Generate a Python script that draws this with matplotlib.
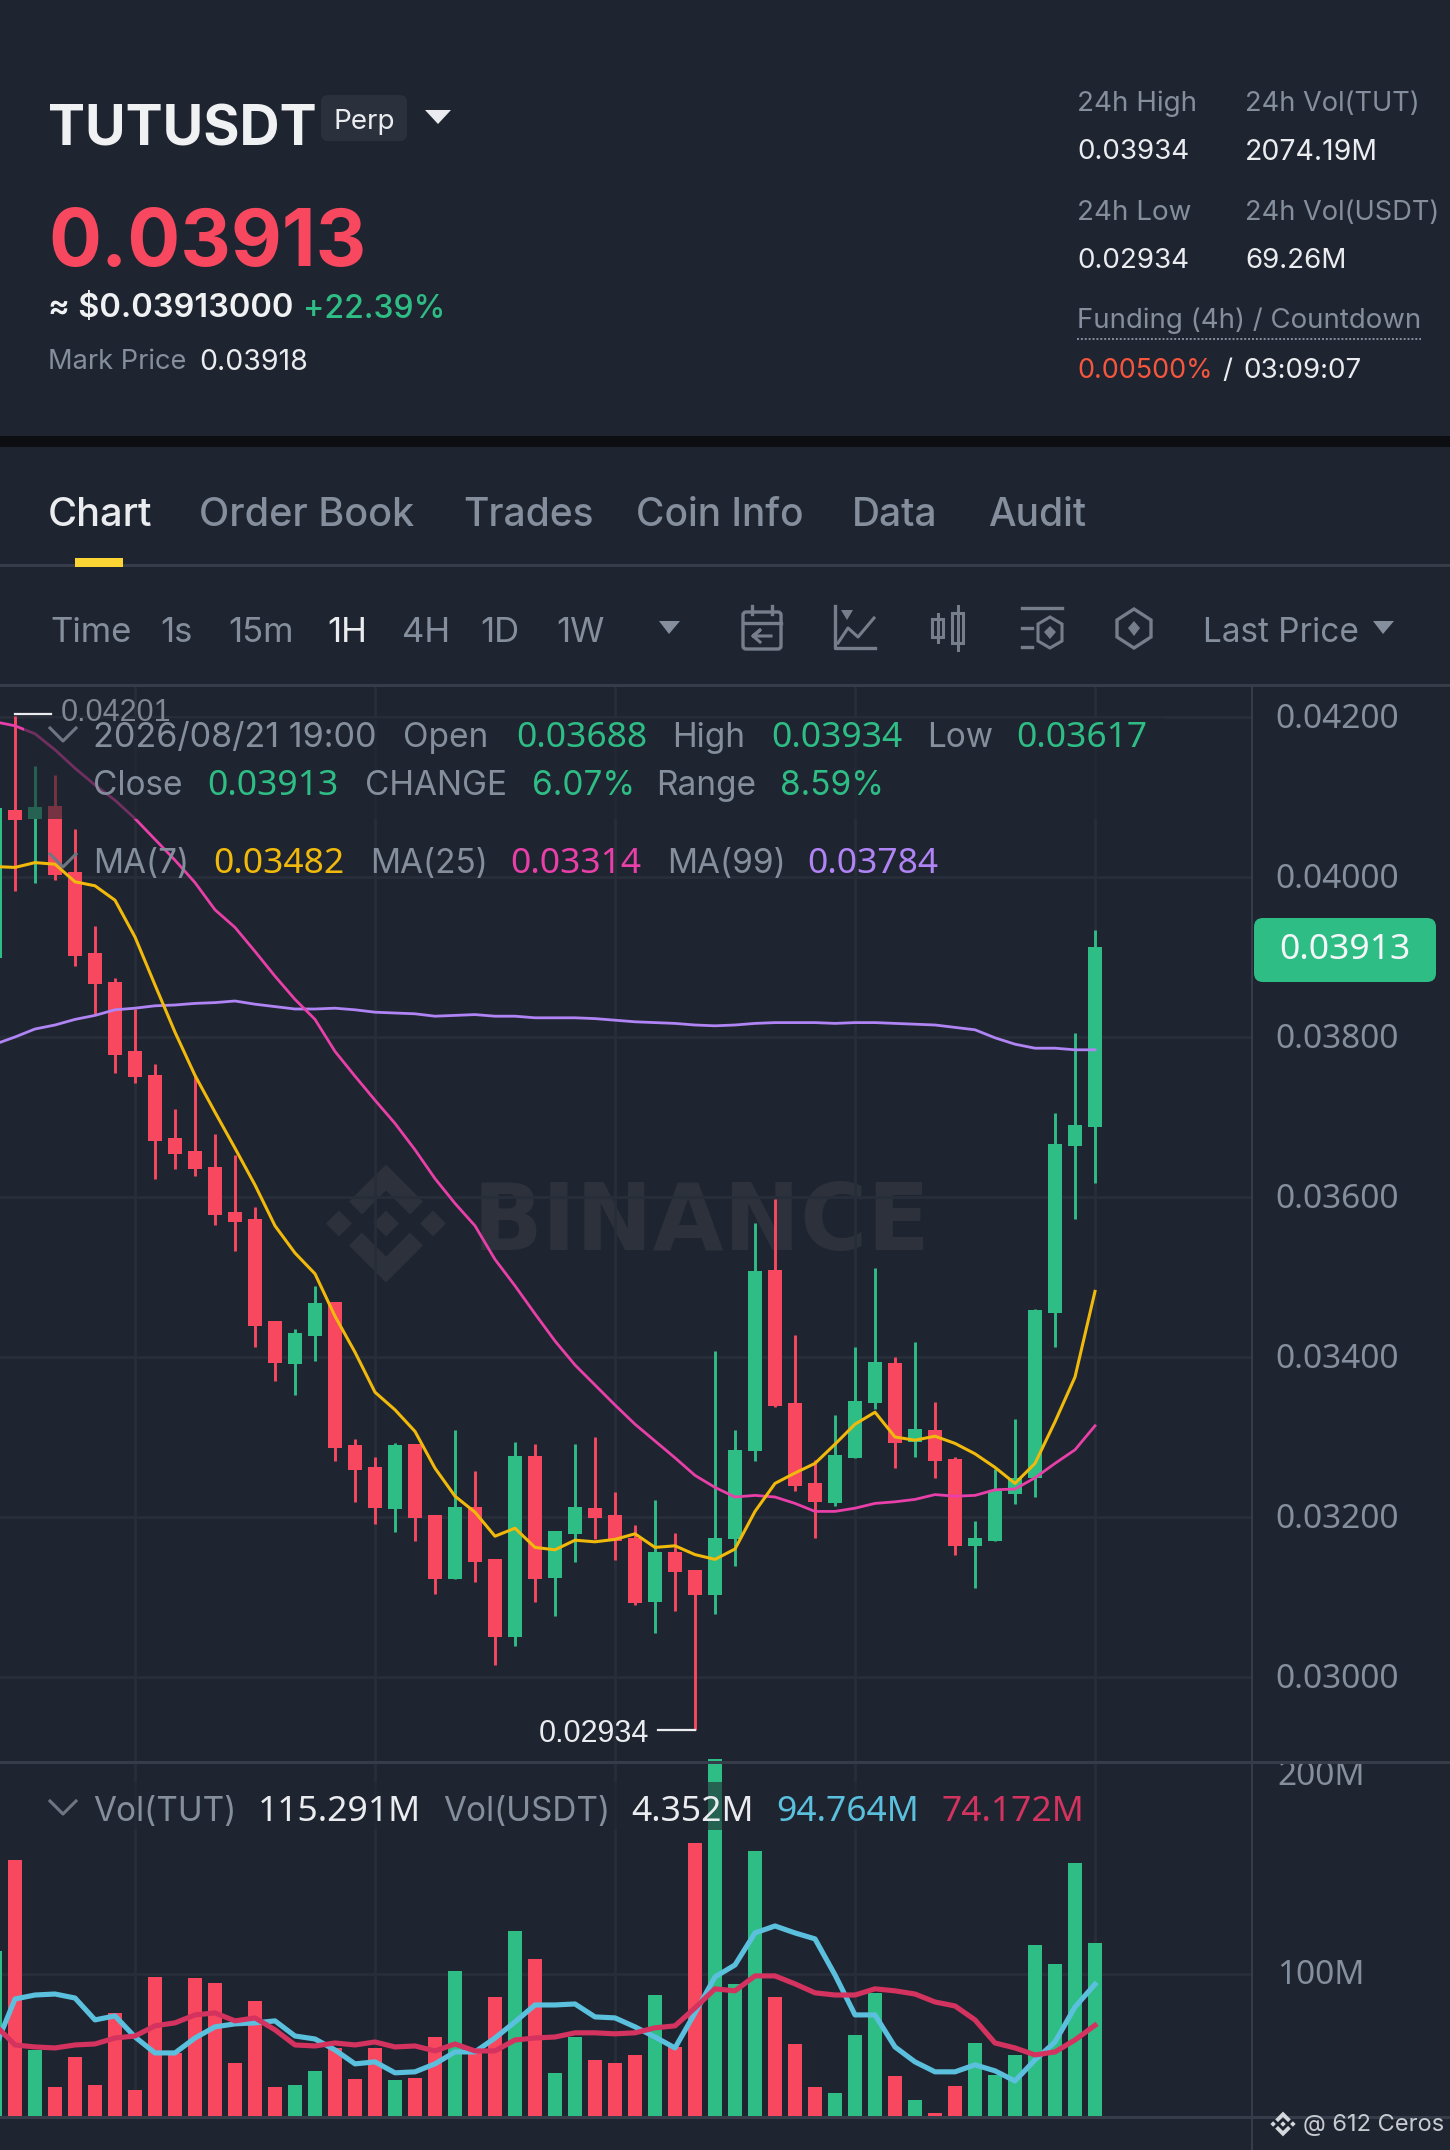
import matplotlib
matplotlib.use('Agg')
import matplotlib.pyplot as plt
from matplotlib.patches import Rectangle, FancyBboxPatch, Polygon
from matplotlib.transforms import ScaledTranslation
import numpy as np

plt.rcParams['font.family'] = ['Inter', 'DejaVu Sans']

BG = '#1f2530'
GRID = '#282e39'
LINE = '#363c49'
RED = '#f8485f'
GREEN = '#2ebd85'
GRAY = '#848e9c'
WHITE = '#eaecef'
NUM = 'Noto Sans'

# candles, first one is cut off by the left edge
candle_idx = np.arange(-1, 55)
opens = [0.03899, 0.04084, 0.04072, 0.04089, 0.04006, 0.03905, 0.03869, 0.03783, 0.03753, 0.03674,
         0.03658, 0.03637, 0.03581, 0.03572, 0.03445, 0.03391, 0.03426, 0.03469, 0.03290, 0.03262,
         0.03210, 0.03291, 0.03202, 0.03122, 0.03212, 0.03148, 0.03050, 0.03276, 0.03124, 0.03179,
         0.03211, 0.03202, 0.03174, 0.03094, 0.03156, 0.03134, 0.03102, 0.03172, 0.03282, 0.03509,
         0.03342, 0.03242, 0.03218, 0.03274, 0.03342, 0.03393, 0.03294, 0.03309, 0.03273, 0.03164,
         0.03170, 0.03229, 0.03249, 0.03455, 0.03664, 0.03688]
closes = [0.04086, 0.04071, 0.04088, 0.04003, 0.03901, 0.03866, 0.03777, 0.03750, 0.03670, 0.03654,
          0.03635, 0.03578, 0.03569, 0.03439, 0.03393, 0.03430, 0.03468, 0.03286, 0.03259, 0.03211,
          0.03290, 0.03199, 0.03122, 0.03212, 0.03144, 0.03050, 0.03276, 0.03122, 0.03182, 0.03212,
          0.03199, 0.03170, 0.03092, 0.03156, 0.03131, 0.03102, 0.03174, 0.03284, 0.03508, 0.03339,
          0.03239, 0.03219, 0.03277, 0.03345, 0.03394, 0.03292, 0.03310, 0.03270, 0.03164, 0.03174,
          0.03232, 0.03249, 0.03459, 0.03666, 0.03690, 0.03913]
highs = [0.04086, 0.04201, 0.04139, 0.04128, 0.04060, 0.03939, 0.03874, 0.03835, 0.03766, 0.03710,
         0.03753, 0.03679, 0.03653, 0.03587, 0.03445, 0.03435, 0.03489, 0.03469, 0.03297, 0.03275,
         0.03292, 0.03291, 0.03202, 0.03309, 0.03258, 0.03148, 0.03294, 0.03291, 0.03182, 0.03291,
         0.03300, 0.03231, 0.03190, 0.03221, 0.03180, 0.03134, 0.03407, 0.03309, 0.03567, 0.03597,
         0.03428, 0.03271, 0.03327, 0.03412, 0.03511, 0.03400, 0.03419, 0.03344, 0.03275, 0.03195,
         0.03260, 0.03322, 0.03460, 0.03705, 0.03805, 0.03934]
lows = [0.03899, 0.03983, 0.03992, 0.03996, 0.03889, 0.03829, 0.03755, 0.03742, 0.03622, 0.03635,
        0.03626, 0.03565, 0.03532, 0.03412, 0.03370, 0.03352, 0.03395, 0.03270, 0.03219, 0.03191,
        0.03181, 0.03170, 0.03104, 0.03122, 0.03119, 0.03015, 0.03039, 0.03094, 0.03076, 0.03144,
        0.03172, 0.03146, 0.03090, 0.03055, 0.03082, 0.02934, 0.03079, 0.03139, 0.03270, 0.03338,
        0.03233, 0.03174, 0.03214, 0.03274, 0.03335, 0.03261, 0.03275, 0.03249, 0.03153, 0.03111,
        0.03170, 0.03216, 0.03225, 0.03412, 0.03572, 0.03617]

ma7 = [0.04013, 0.04012, 0.04018, 0.04016, 0.03994, 0.03989, 0.03971, 0.03925, 0.03865, 0.03806,
       0.03752, 0.03706, 0.03661, 0.03615, 0.03564, 0.03530, 0.03504, 0.03451, 0.03406, 0.03356,
       0.03334, 0.03307, 0.03261, 0.03226, 0.03206, 0.03176, 0.03186, 0.03162, 0.03159, 0.03171,
       0.03169, 0.03172, 0.03179, 0.03162, 0.03164, 0.03153, 0.03147, 0.03160, 0.03207, 0.03242,
       0.03255, 0.03267, 0.03291, 0.03316, 0.03331, 0.03300, 0.03296, 0.03301, 0.03292, 0.03279,
       0.03262, 0.03242, 0.03267, 0.03319, 0.03375, 0.03482]
ma25 = [0.04194, 0.04189, 0.04179, 0.04159, 0.04136, 0.04115, 0.04096, 0.04073, 0.04047, 0.04021,
        0.03993, 0.03959, 0.03937, 0.03907, 0.03876, 0.03847, 0.03822, 0.03782, 0.03751, 0.03721,
        0.03692, 0.03659, 0.03623, 0.03592, 0.03564, 0.03522, 0.03489, 0.03454, 0.03420, 0.03390,
        0.03365, 0.03340, 0.03316, 0.03295, 0.03274, 0.03252, 0.03237, 0.03225, 0.03227, 0.03225,
        0.03217, 0.03207, 0.03207, 0.03211, 0.03217, 0.03219, 0.03222, 0.03228, 0.03226, 0.03227,
        0.03234, 0.03235, 0.03249, 0.03267, 0.03284, 0.03314]
ma99 = [0.03791, 0.03800, 0.03810, 0.03815, 0.03822, 0.03827, 0.03834, 0.03836, 0.03839, 0.03840,
        0.03842, 0.03843, 0.03845, 0.03841, 0.03838, 0.03835, 0.03835, 0.03836, 0.03834, 0.03831,
        0.03830, 0.03829, 0.03826, 0.03827, 0.03828, 0.03826, 0.03826, 0.03824, 0.03824, 0.03824,
        0.03823, 0.03821, 0.03819, 0.03818, 0.03817, 0.03815, 0.03814, 0.03815, 0.03817, 0.03818,
        0.03818, 0.03818, 0.03817, 0.03818, 0.03818, 0.03817, 0.03816, 0.03815, 0.03812, 0.03809,
        0.03799, 0.03791, 0.03786, 0.03786, 0.03784, 0.03784]

# volume in millions
volumes = [111.6, 157.3, 61.8, 43.2, 58.3, 44.2, 80.4, 41.7, 98.5, 60.3,
           98.0, 95.5, 55.3, 86.4, 43.2, 44.2, 51.3, 62.8, 47.2, 62.8,
           46.7, 47.7, 68.3, 101.5, 60.8, 88.4, 121.6, 107.5, 50.3, 68.3,
           56.8, 55.3, 59.3, 89.4, 63.3, 165.8, 208.0, 95.0, 161.8, 88.4,
           64.8, 43.2, 40.2, 69.3, 90.5, 48.7, 36.7, 30.2, 43.7, 65.3,
           49.2, 59.3, 114.6, 105.0, 155.8, 115.3]
vol_ma_fast = [62.8, 87.4, 89.4, 89.9, 87.9, 76.9, 78.9, 68.3, 60.3, 60.3,
               67.8, 73.4, 74.9, 75.4, 76.4, 68.8, 67.3, 61.8, 54.8, 55.8,
               50.3, 50.8, 54.8, 60.8, 60.8, 67.8, 75.9, 84.4, 84.4, 84.9,
               78.4, 77.9, 73.4, 68.3, 62.8, 80.4, 98.5, 104.5, 120.6, 124.1,
               120.6, 117.6, 99.5, 79.4, 79.4, 63.3, 55.8, 50.8, 50.8, 54.3,
               51.3, 46.2, 56.8, 65.8, 83.4, 94.8]
vol_ma_slow = [74.4, 64.3, 63.3, 62.8, 64.3, 64.8, 67.8, 68.8, 73.9, 75.4,
               79.4, 80.4, 76.4, 77.9, 71.9, 64.3, 63.8, 65.3, 64.3, 65.8,
               63.3, 63.8, 61.3, 64.8, 61.3, 61.3, 66.8, 67.8, 68.3, 70.4,
               70.4, 69.9, 70.4, 72.9, 73.9, 82.9, 92.5, 91.5, 99.0, 99.0,
               95.0, 90.5, 89.4, 89.4, 92.5, 91.5, 89.9, 85.9, 83.9, 76.9,
               65.3, 62.8, 59.3, 60.8, 66.8, 74.2]

price_ticks = [0.030, 0.032, 0.034, 0.036, 0.038, 0.040, 0.042]
price_labels = ['0.03000', '0.03200', '0.03400', '0.03600', '0.03800', '0.04000', '0.04200']
vol_ticks = [100, 200]
vol_labels = ['100M', '200M']
time_grid = [6, 18, 30, 42, 54]

W, H = 1450, 2150
fig = plt.figure(figsize=(W / 100, H / 100), dpi=100, facecolor=BG)


def rect(x0, y0, x1, y1):
    return [x0 / W, 1 - y1 / H, (x1 - x0) / W, (y1 - y0) / H]


under = fig.add_axes([0, 0, 1, 1], zorder=0)
top = fig.add_axes([0, 0, 1, 1], zorder=3)
for a in (under, top):
    a.set_xlim(0, W)
    a.set_ylim(H, 0)
    a.axis('off')
top.patch.set_alpha(0)

# price panel
ax = fig.add_axes(rect(0, 686, 1252, 1762), zorder=1)
ax.patch.set_alpha(0)
ax.set_xlim(-0.75, 61.85)
ax.set_ylim(0.0289375, 0.0423875)
for s in ax.spines.values():
    s.set_visible(False)
ax.set_xticks([])
ax.yaxis.tick_right()
ax.set_yticks(price_ticks)
ax.set_yticklabels(price_labels, fontsize=24, color=GRAY, family=NUM)
ax.tick_params(axis='y', length=0, pad=17)
for v in price_ticks:
    ax.axhline(v, color=GRID, lw=2, zorder=1)
for v in time_grid:
    ax.axvline(v, color=GRID, lw=2, zorder=1)

for i, o, h, l, c in zip(candle_idx, opens, highs, lows, closes):
    col = GREEN if c >= o else RED
    ax.vlines(i, l, h, color=col, lw=2.1, zorder=3)
    ax.bar(i, abs(c - o), bottom=min(o, c), width=0.7, color=col, zorder=3)
ax.plot(candle_idx, ma99, color='#b084f5', lw=2, zorder=4)
ax.plot(candle_idx, ma25, color='#e83fa8', lw=2, zorder=4)
ax.plot(candle_idx, ma7, color='#f0b90b', lw=2.2, zorder=5)

# high / low markers
ax.plot([0, 1.8], [0.04204, 0.04204], color=WHITE, lw=1.6, zorder=5)
ax.plot([32.15, 34], [0.02934, 0.02934], color=WHITE, lw=1.6, zorder=5)

# volume panel
vax = fig.add_axes(rect(0, 1758, 1252, 2117), zorder=1)
vax.patch.set_alpha(0)
vax.set_xlim(-0.75, 61.85)
vax.set_ylim(28.1, 208.5)
for s in vax.spines.values():
    s.set_visible(False)
vax.set_xticks([])
vax.yaxis.tick_right()
vax.set_yticks(vol_ticks)
vax.set_yticklabels(vol_labels, fontsize=24, color=GRAY, family=NUM)
vax.tick_params(axis='y', length=0, pad=18)
vax.axhline(100, color=GRID, lw=2, zorder=1)
for v in time_grid:
    vax.axvline(v, color=GRID, lw=2, zorder=1)
bar_cols = [GREEN if c >= o else RED for o, c in zip(opens, closes)]
vax.bar(candle_idx, volumes, width=0.7, color=bar_cols, zorder=3)
vax.plot(candle_idx, vol_ma_fast, color='#5bc0de', lw=3.7, zorder=4)
vax.plot(candle_idx, vol_ma_slow, color='#d4335f', lw=3.7, zorder=5)

# axis labels sit a little above their grid lines
lift = ScaledTranslation(0, 2 / 100, fig.dpi_scale_trans)
for a in (ax, vax):
    for lab in a.get_yticklabels():
        lab.set_transform(lab.get_transform() + lift)

# backgrounds and separators
top.add_patch(Rectangle((0, 436), W, 11, color='#0c0e12', lw=0))
top.add_patch(Rectangle((0, 563.5), W, 3, color=LINE, lw=0))
top.add_patch(Rectangle((0, 684), W, 3, color=LINE, lw=0))
top.add_patch(Rectangle((0, 1761), W, 2.5, color=LINE, lw=0))
top.add_patch(Rectangle((0, 2116), W, 2.5, color=LINE, lw=0))
top.add_patch(Rectangle((1251, 686), 2, 1464, color=LINE, lw=0))
top.add_patch(Rectangle((75, 558), 48, 9, color='#fcd535', lw=0))

# legend veils dim what is behind them
top.add_patch(Rectangle((24, 718), 1140, 101, color=BG, alpha=0.6, lw=0))
top.add_patch(Rectangle((40, 1782), 1050, 48, color=BG, alpha=0.6, lw=0))

# watermark
WM = '#2c313c'
under.text(473, 1224, 'BINANCE', fontsize=66, fontweight='bold', color=WM, va='center', ha='left',
           family='DejaVu Sans')


def logo(a, cx, cy, k, col):
    for dx, dy in [(-47, 0), (0, 0), (47, 0)]:
        a.add_patch(Polygon([(cx + dx * k, cy + (dy - 13) * k), (cx + (dx + 13) * k, cy + dy * k),
                             (cx + dx * k, cy + (dy + 13) * k), (cx + (dx - 13) * k, cy + dy * k)],
                            color=col, lw=0))
    for m in (1, -1):
        a.add_patch(Polygon([(cx, cy - 59 * k * m), (cx + 37 * k, cy - 22 * k * m), (cx + 24 * k, cy - 9 * k * m),
                             (cx, cy - 33 * k * m), (cx - 24 * k, cy - 9 * k * m), (cx - 37 * k, cy - 22 * k * m)],
                            color=col, lw=0))


logo(under, 386, 1223.5, 1, WM)
logo(top, 1283, 2124, 0.21, '#d5d8dc')


def t(x, y, s, size, col=GRAY, weight='normal', ha='left', family=None):
    kw = {'family': family} if family else {}
    top.text(x, y + 3, s, fontsize=size, color=col, fontweight=weight, ha=ha, va='center', **kw)


# header
t(48, 127, 'TUTUSDT', 40, '#f0f1f3', 'bold')
top.add_patch(FancyBboxPatch((321, 95), 86, 46, boxstyle='round,pad=0,rounding_size=7', color='#2b313c', lw=0))
t(364, 119, 'Perp', 20, WHITE, ha='center')
top.add_patch(Polygon([(425, 110), (451, 110), (438, 124)], color=WHITE, lw=0))
t(48, 242, '0.03913', 56.5, RED, 'bold')
t(48, 306, '≈ $0.03913000', 23.5, '#f0f1f3', 'semibold')
t(303, 306, '+22.39%', 23, GREEN, 'medium')
t(48, 359, 'Mark Price', 19.6, GRAY)
t(199, 359, '0.03918', 20.5, WHITE)
t(1077, 101, '24h High', 20, GRAY)
t(1245, 101, '24h Vol(TUT)', 19.6, GRAY)
t(1077, 149, '0.03934', 20, WHITE)
t(1245, 149, '2074.19M', 20.5, WHITE)
t(1077, 210, '24h Low', 20, GRAY)
t(1245, 210, '24h Vol(USDT)', 19.6, GRAY)
t(1077, 258, '0.02934', 20, WHITE)
t(1245, 258, '69.26M', 20, WHITE)
t(1077, 318, 'Funding (4h) / Countdown', 19.9, GRAY)
top.plot([1077, 1421], [339, 339], color=GRAY, lw=1.4, ls=(0, (1, 1)))
t(1077, 368, '0.00500%', 19.4, '#f6563d')
t(1222, 368, '/', 20, WHITE)
t(1243, 368, '03:09:07', 20, WHITE)

# tabs
t(48, 513, 'Chart', 28.6, WHITE, 'medium')
t(199, 513, 'Order Book', 28.5, GRAY, 'medium')
for x, s in [(463, 'Trades'), (636, 'Coin Info'), (852, 'Data'), (988, 'Audit')]:
    t(x, 513, s, 28, GRAY, 'medium')

# toolbar
for x, s in [(50, 'Time'), (160, '1s'), (228, '15m'), (402, '4H'), (480, '1D'), (556, '1W')]:
    t(x, 630, s, 25, GRAY)
t(327, 630, '1H', 25, WHITE)
t(1203, 630, 'Last Price', 24, GRAY)
top.add_patch(Polygon([(659, 621), (680, 621), (669, 634)], color=GRAY, lw=0))
top.add_patch(Polygon([(1373, 621), (1394, 621), (1383, 634)], color=GRAY, lw=0))

ICON = '#767e8b'
# calendar
top.add_patch(FancyBboxPatch((743, 612), 38, 37, boxstyle='round,pad=0,rounding_size=3', fc='none', ec=ICON, lw=2.4))
top.plot([743, 781], [623, 623], color=ICON, lw=2.4)
top.plot([752, 752], [606, 614], color=ICON, lw=2.4)
top.plot([772, 772], [606, 614], color=ICON, lw=2.4)
top.plot([771, 753, 760, 753, 760], [636, 636, 630, 636, 642], color=ICON, lw=2.2)
# line chart
top.plot([835, 835, 875], [606, 648, 648], color=ICON, lw=2.4)
top.plot([838, 848, 858, 874], [643, 628, 637, 618], color=ICON, lw=2.2)
top.add_patch(Polygon([(841, 610), (853, 610), (847, 620)], color=ICON, lw=0))
# candles
top.plot([938, 938], [614, 642], color=ICON, lw=2.2)
top.plot([958, 958], [606, 650], color=ICON, lw=2.2)
top.add_patch(Rectangle((932, 619), 11, 18, fc=BG, ec=ICON, lw=2.2))
top.add_patch(Rectangle((952, 613), 11, 30, fc=BG, ec=ICON, lw=2.2))
# indicator
top.plot([1022, 1062], [608, 608], color=ICON, lw=2.4)
top.plot([1022, 1032], [628, 628], color=ICON, lw=2.4)
top.plot([1022, 1032], [647, 647], color=ICON, lw=2.4)
top.add_patch(Polygon([(1050, 617), (1062, 624), (1062, 641), (1050, 648), (1038, 641), (1038, 624)], fc='none', ec=ICON, lw=2.2))
top.add_patch(Polygon([(1050, 626), (1056, 632), (1050, 639), (1044, 632)], color=ICON, lw=0))
# hexagon
top.add_patch(Polygon([(1134, 609), (1151, 620), (1151, 637), (1134, 648), (1117, 637), (1117, 620)], fc='none', ec=ICON, lw=2.4))
top.add_patch(Polygon([(1134, 621), (1140, 628), (1134, 636), (1128, 628)], color=ICON, lw=0))

# ohlc legend
t(93, 735, '2026/08/21 19:00', 24.6)
t(403, 735, 'Open', 24)
t(516, 735, '0.03688', 25.5, GREEN, family=NUM)
t(672, 735, 'High', 24)
t(771, 735, '0.03934', 25.5, GREEN, family=NUM)
t(927, 735, 'Low', 24)
t(1016, 735, '0.03617', 25.5, GREEN, family=NUM)
t(93, 783, 'Close', 24)
t(207, 783, '0.03913', 25.5, GREEN, family=NUM)
t(365, 783, 'CHANGE', 24)
t(532, 783, '6.07%', 24, GREEN)
t(656, 783, 'Range', 24)
t(780, 783, '8.59%', 24, GREEN)
t(93, 861, 'MA(7)', 24)
t(213, 861, '0.03482', 25.5, '#f0b90b', family=NUM)
t(370, 861, 'MA(25)', 24)
t(510, 861, '0.03314', 25.5, '#e83fa8', family=NUM)
t(667, 861, 'MA(99)', 24)
t(807, 861, '0.03784', 25.5, '#b084f5', family=NUM)

# chevrons
for cy in (735, 861, 1808):
    top.plot([50, 63, 76], [cy - 7, cy + 6, cy - 7], color='#6f7683', lw=2.2)

# volume legend
t(93, 1809, 'Vol(TUT)', 24)
t(258, 1809, '115.291M', 25.5, WHITE, family=NUM)
t(443, 1809, 'Vol(USDT)', 24)
t(631, 1809, '4.352M', 25.5, WHITE, family=NUM)
t(776, 1809, '94.764M', 25.5, '#5bc0de', family=NUM)
t(942, 1809, '74.172M', 25.5, '#d4335f', family=NUM)

# extreme labels
t(61, 710, '0.04201', 22, '#808792', family='Liberation Sans')
t(649, 1731, '0.02934', 22, WHITE, ha='right', family='Liberation Sans')

# last price tag
top.add_patch(FancyBboxPatch((1254, 918), 182, 64, boxstyle='round,pad=0,rounding_size=9', color=GREEN, lw=0))
t(1345, 947, '0.03913', 25.5, '#f4f6f8', ha='center', family=NUM)

t(1303, 2122, '@ 612 Ceros', 17, '#c8ccd2')

fig.savefig('out.png', dpi=100, facecolor=BG)
